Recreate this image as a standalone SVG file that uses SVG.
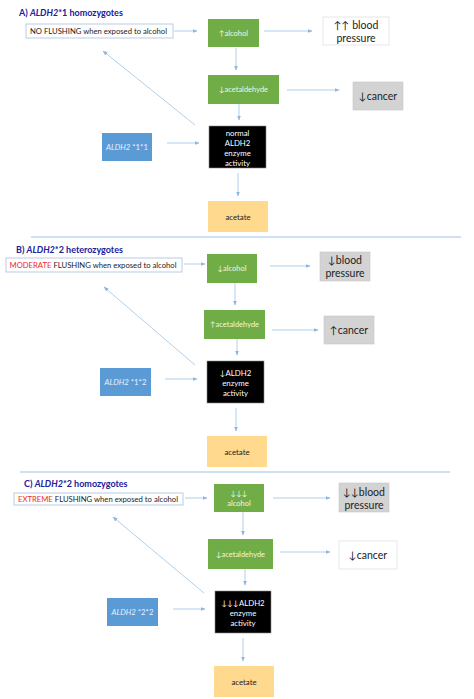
<svg xmlns="http://www.w3.org/2000/svg" width="474" height="699" viewBox="0 0 474 699">
<defs>
<marker id="ah" markerUnits="userSpaceOnUse" markerWidth="5" markerHeight="4" refX="4.5" refY="2" orient="auto">
<path d="M0,0 L5,2 L0,4 Z" fill="#8fb6e0"/>
</marker>
<style>
text{font-family:Lato,"DejaVu Sans",sans-serif}
.title{font-size:9px;font-weight:bold;fill:#20209a}
.flush{fill:#fff;stroke:#a9c1e2;stroke-width:0.8}
.ft{font-size:8px;fill:#222}
.red{fill:#ee2a2a}
.green{fill:#70ad47}
.gt{font-size:7.5px;fill:#eef6e8;text-anchor:middle}
.black{fill:#000;stroke:#8a8a8a;stroke-width:0.6}
.bt{font-size:7.8px;fill:#fff;text-anchor:middle}
.blue{fill:#5b9bd5}
.blt{font-size:7.8px;fill:#e6f0fa;text-anchor:middle}
.acet{fill:#ffd98e}
.at{font-size:7.8px;fill:#222;text-anchor:middle}
.wbox{fill:#fff;stroke:#e2e2e2;stroke-width:0.8}
.gbox{fill:#d3d3d3;stroke:#c6c6c6;stroke-width:0.6}
.et{font-size:10.5px;fill:#222;text-anchor:middle}
.conn line{stroke:#9dc3e6;stroke-width:0.8;marker-end:url(#ah)}
.sep{stroke:#bdd7ee;stroke-width:1.5}
</style>
</defs>
<rect width="474" height="699" fill="#fff"/>

<!-- Section A -->
<text class="title" x="19" y="16">A) <tspan font-style="italic">ALDH2</tspan>*1 homozygotes</text>
<g id="a-flush"><rect class="flush" x="26" y="24" width="147" height="14"/><text class="ft" x="30" y="34" textLength="137" lengthAdjust="spacingAndGlyphs">NO FLUSHING when exposed to alcohol</text></g>
<g id="a-alcohol"><rect class="green" x="208" y="19" width="51" height="28"/><text class="gt" x="233.5" y="36">↑alcohol</text></g>
<g id="a-bp"><rect class="wbox" x="323" y="17" width="66" height="28"/><text class="et" x="356" y="29">↑↑ blood</text><text class="et" x="356" y="42">pressure</text></g>
<g id="a-acetaldehyde"><rect class="green" x="208" y="75" width="71" height="29"/><text class="gt" x="243.5" y="92">↓acetaldehyde</text></g>
<g id="a-cancer"><rect class="gbox" x="353" y="82" width="50" height="28"/><text class="et" x="378" y="100">↓cancer</text></g>
<g id="a-enzyme"><rect class="black" x="209" y="126" width="57" height="42"/><text class="bt" x="237.5" y="136">normal</text><text class="bt" x="237.5" y="146">ALDH2</text><text class="bt" x="237.5" y="156">enzyme</text><text class="bt" x="237.5" y="166">activity</text></g>
<g id="a-genotype"><rect class="blue" x="102" y="133" width="50" height="28"/><text class="blt" x="127" y="150"><tspan font-style="italic">ALDH2</tspan> *1*1</text></g>
<g id="a-acetate"><rect class="acet" x="208" y="201" width="60" height="31"/><text class="at" x="238" y="220">acetate</text></g>
<line class="sep" x1="31" y1="237" x2="461" y2="237"/>

<!-- Section B -->
<text class="title" x="16" y="253">B) <tspan font-style="italic">ALDH2</tspan>*2 heterozygotes</text>
<g id="b-flush"><rect class="flush" x="6" y="258" width="176" height="14"/><text class="ft" x="9.5" y="268" textLength="167" lengthAdjust="spacingAndGlyphs"><tspan class="red">MODERATE</tspan> FLUSHING when exposed to alcohol</text></g>
<g id="b-alcohol"><rect class="green" x="207" y="254" width="50" height="29"/><text class="gt" x="232" y="271">↓alcohol</text></g>
<g id="b-bp"><rect class="gbox" x="320" y="252" width="50" height="29"/><text class="et" x="345" y="264">↓blood</text><text class="et" x="345" y="277">pressure</text></g>
<g id="b-acetaldehyde"><rect class="green" x="204" y="310" width="61" height="29"/><text class="gt" x="234.5" y="327">↑acetaldehyde</text></g>
<g id="b-cancer"><rect class="gbox" x="324" y="316" width="50" height="28"/><text class="et" x="349" y="334">↑cancer</text></g>
<g id="b-enzyme"><rect class="black" x="207" y="361" width="57" height="42"/><text class="bt" x="235.5" y="376">↓ALDH2</text><text class="bt" x="235.5" y="386">enzyme</text><text class="bt" x="235.5" y="396">activity</text></g>
<g id="b-genotype"><rect class="blue" x="100" y="368" width="51" height="28"/><text class="blt" x="125.5" y="385"><tspan font-style="italic">ALDH2</tspan> *1*2</text></g>
<g id="b-acetate"><rect class="acet" x="207" y="436" width="60" height="31"/><text class="at" x="237" y="455">acetate</text></g>
<line class="sep" x1="20" y1="472" x2="450" y2="472"/>

<!-- Section C -->
<text class="title" x="24" y="487">C) <tspan font-style="italic">ALDH2</tspan>*2 homozygotes</text>
<g id="c-flush"><rect class="flush" x="14" y="493" width="169" height="12"/><text class="ft" x="18" y="502" textLength="160" lengthAdjust="spacingAndGlyphs"><tspan class="red">EXTREME</tspan> FLUSHING when exposed to alcohol</text></g>
<g id="c-alcohol"><rect class="green" x="214" y="484" width="50" height="28"/><text class="gt" x="239" y="496">↓↓↓</text><text class="gt" x="239" y="506">alcohol</text></g>
<g id="c-bp"><rect class="gbox" x="339" y="483" width="50" height="29"/><text class="et" x="364" y="496">↓↓blood</text><text class="et" x="364" y="509">pressure</text></g>
<g id="c-acetaldehyde"><rect class="green" x="208" y="539" width="65" height="30"/><text class="gt" x="240.5" y="557">↓acetaldehyde</text></g>
<g id="c-cancer"><rect class="wbox" x="339" y="541" width="58" height="28"/><text class="et" x="368" y="559">↓cancer</text></g>
<g id="c-enzyme"><rect class="black" x="215" y="591" width="56" height="42"/><text class="bt" x="243" y="606">↓↓↓ALDH2</text><text class="bt" x="243" y="616">enzyme</text><text class="bt" x="243" y="626">activity</text></g>
<g id="c-genotype"><rect class="blue" x="107" y="598" width="51" height="28"/><text class="blt" x="132.5" y="615"><tspan font-style="italic">ALDH2</tspan> *2*2</text></g>
<g id="c-acetate"><rect class="acet" x="214" y="666" width="60" height="31"/><text class="at" x="244" y="685">acetate</text></g>

<g id="connectors" class="conn">
<line x1="174" y1="31" x2="197" y2="31"/>
<line x1="264" y1="31" x2="312" y2="31"/>
<line x1="236" y1="48" x2="236" y2="70"/>
<line x1="287" y1="90" x2="339" y2="90"/>
<line x1="239" y1="104" x2="239" y2="120"/>
<line x1="195" y1="125" x2="103" y2="51"/>
<line x1="167" y1="143" x2="199" y2="143"/>
<line x1="238" y1="173" x2="238" y2="196"/>

<line x1="184" y1="264" x2="205" y2="264"/>
<line x1="270" y1="266" x2="310" y2="266"/>
<line x1="235" y1="283" x2="235" y2="305"/>
<line x1="272" y1="330" x2="318" y2="330"/>
<line x1="237" y1="339" x2="237" y2="355"/>
<line x1="195" y1="365" x2="104" y2="287"/>
<line x1="165" y1="379" x2="197" y2="379"/>
<line x1="236" y1="408" x2="236" y2="431"/>

<line x1="185" y1="498" x2="207" y2="498"/>
<line x1="273" y1="498" x2="330" y2="498"/>
<line x1="243" y1="512" x2="243" y2="535"/>
<line x1="280" y1="552" x2="330" y2="552"/>
<line x1="245" y1="569" x2="245" y2="585"/>
<line x1="204" y1="593" x2="113" y2="517"/>
<line x1="173" y1="609" x2="205" y2="609"/>
<line x1="243" y1="638" x2="243" y2="661"/>
</g>
</svg>
